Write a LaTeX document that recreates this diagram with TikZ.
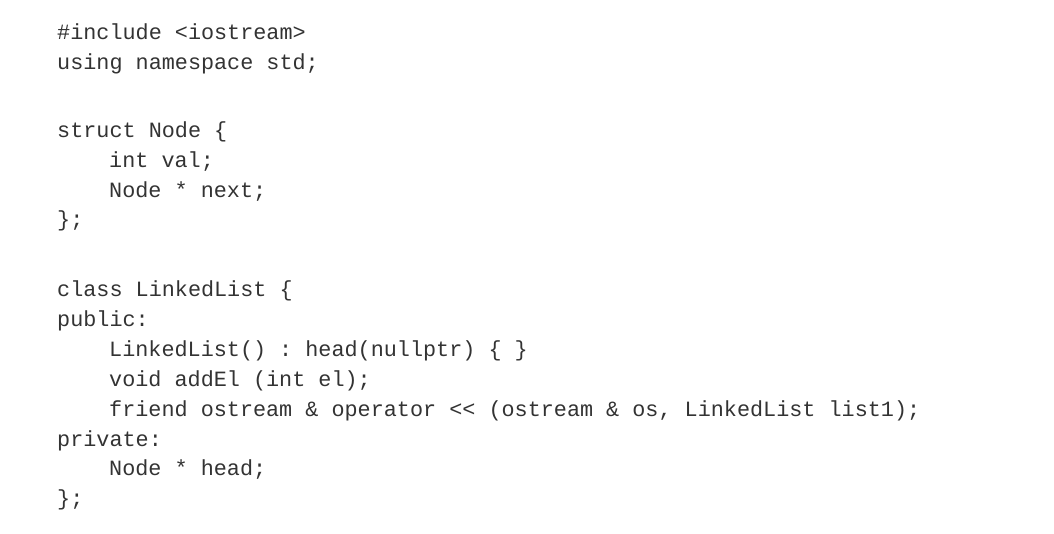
\documentclass[tikz,border=0pt]{standalone}
\usepackage{fontspec}
\setmonofont{Liberation Mono}
\definecolor{code}{HTML}{333333}
\begin{document}
\begin{tikzpicture}[x=1pt,y=1pt,ln/.style={anchor=base west,inner sep=0pt,text=code,font=\ttfamily\fontsize{21.8}{26}\selectfont}]
\useasboundingbox (0,0) rectangle (1054,534);
\def\L#1#2#3{\node[ln] (n#1) at (#2,{534-#1-7}) {#3};}
\L{33}{57}{\#include <iostream>}
\L{63}{57}{using namespace std;}
\L{131}{57}{struct Node \{}
\L{161}{109}{int val;}
\L{191}{109}{Node * next;}
\L{220}{57}{\};}
\L{290}{57}{class LinkedList \{}
\L{320}{57}{public:}
\L{350}{109}{LinkedList() : head(nullptr) \{ \}}
\L{380}{109}{void addEl (int el);}
\L{410}{109}{friend ostream \& operator << (ostream \& os, LinkedList list1);}
\L{440}{57}{private:}
\L{469}{109}{Node * head;}
\L{499}{57}{\};}
\end{tikzpicture}
\end{document}
